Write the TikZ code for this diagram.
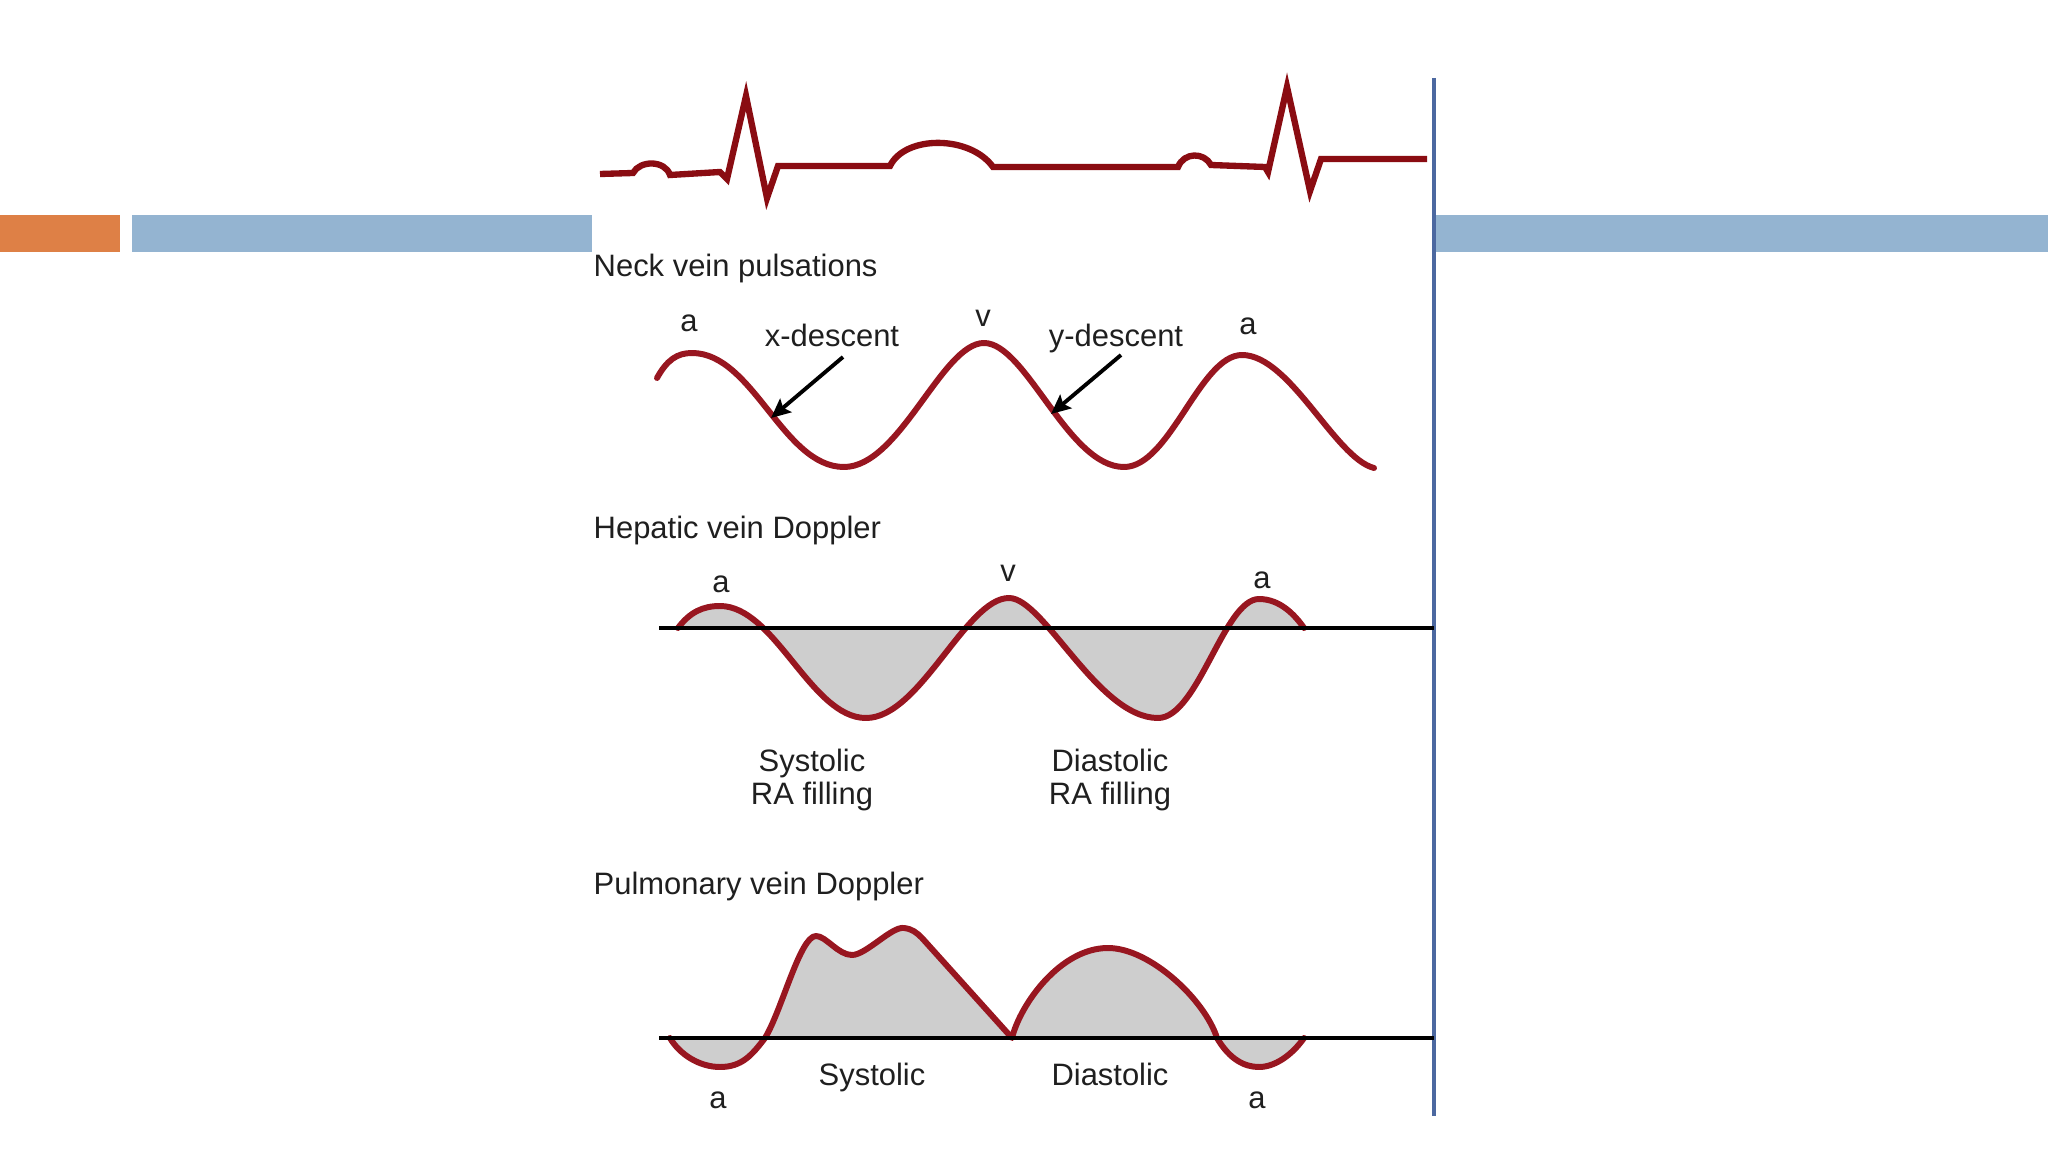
\documentclass[tikz,border=0pt]{standalone}
\usepackage{fontspec}
\setmainfont{Liberation Sans}
\usetikzlibrary{arrows.meta}
\definecolor{ecgred}{RGB}{138,12,18}
\definecolor{wavered}{RGB}{152,22,32}
\definecolor{fillgray}{RGB}{206,206,206}
\definecolor{barorange}{RGB}{222,128,70}
\definecolor{barblue}{RGB}{148,180,209}
\definecolor{edgeblue}{RGB}{76,104,160}

\begin{document}
\begin{tikzpicture}[
    x=0.01cm, y=-0.01cm,
    lbl/.style={font=\fontsize{8.8}{9.6}\selectfont, text=black!88, inner sep=0pt},
    heading/.style={lbl, anchor=base west},
    wave/.style={wavered, line width=1.7pt, line join=round, line cap=round},
    filled/.style={wave, preaction={fill=fillgray}},
    zeroline/.style={black, line width=1.1pt},
    pointer/.style={-{Stealth[length=5.5pt, width=5pt, inset=1pt]}, black, line width=1.1pt}
]
\useasboundingbox (0,0) rectangle (2048,1152);

% Slide bars
\fill[barorange] (0,215) rectangle (120,252);
\fill[barblue] (132,215) rectangle (592,252);
\fill[barblue] (1434,215) rectangle (2048,252);
\draw[edgeblue, line width=0.9pt] (1434,78) -- (1434,1116);

% ECG
\draw[ecgred, line width=1.8pt] (600,174) -- (633,173)
    .. controls (640,160) and (665,160) .. (670,175) -- (720,172) -- (727,179)
    -- (746,96) -- (767,198) -- (778,166) -- (890,166)
    .. controls (905,135) and (970,135) .. (993,167) -- (1178,167)
    .. controls (1184,152) and (1204,152) .. (1211,165) -- (1265,167)
    -- (1268,172) -- (1287,87) -- (1310,191) -- (1321,159) -- (1427,159);

% Neck vein pulsations
\node[heading] (neck) at (593,277) {Neck vein pulsations};
\draw[wave] (657,378) .. controls (667,360) and (677,353) .. (692,353)
    .. controls (753,353) and (783,467) .. (844,467)
    .. controls (900,467) and (942,343) .. (984,343)
    .. controls (1026,343) and (1068,467) .. (1124,467)
    .. controls (1170,467) and (1200,355) .. (1242,355)
    .. controls (1290,355) and (1335,458) .. (1374,468);
\node[lbl, anchor=base] (na1) at (689,332) {a};
\node[lbl, anchor=base] (xdesc) at (832,347) {x-descent};
\node[lbl, anchor=base] (nv) at (983,327) {v};
\node[lbl, anchor=base] (ydesc) at (1116,347) {y-descent};
\node[lbl, anchor=base] (na2) at (1248,335) {a};
\coordinate (xtail) at (843,357);
\coordinate (xtip) at (771,418);
\coordinate (ytail) at (1121,355);
\coordinate (ytip) at (1051,414);
\draw[pointer] (xtail) -- (xtip);
\draw[pointer] (ytail) -- (ytip);

% Hepatic vein Doppler
\node[heading] (hepatic) at (593,539) {Hepatic vein Doppler};
\draw[filled] (678,628) .. controls (690,612) and (703,606) .. (720,606)
    .. controls (775,606) and (811,718) .. (866,718)
    .. controls (920,718) and (966,598) .. (1009,598)
    .. controls (1044,598) and (1098,718) .. (1158,718)
    .. controls (1198,718) and (1224,599) .. (1259,599)
    .. controls (1280,599) and (1295,615) .. (1304,628);
\draw[zeroline] (659,628) -- (1434,628);
\node[lbl, anchor=base] (ha1) at (721,593) {a};
\node[lbl, anchor=base] (hv) at (1008,582) {v};
\node[lbl, anchor=base] (ha2) at (1262,588) {a};
\node[lbl, align=center] (hsys) at (812,780) {Systolic\\RA filling};
\node[lbl, align=center] (hdia) at (1110,780) {Diastolic\\RA filling};

% Pulmonary vein Doppler
\node[heading] (pulmonary) at (593,894) {Pulmonary vein Doppler};
\draw[filled] (670,1038) .. controls (680,1055) and (700,1067) .. (720,1067)
    .. controls (742,1067) and (752,1055) .. (765,1038)
    .. controls (782,1010) and (800,936) .. (816,936)
    .. controls (826,936) and (838,955) .. (852,955)
    .. controls (866,955) and (892,926) .. (904,928)
    .. controls (912,929) and (916,932) .. (922,938) -- (1012,1038)
    .. controls (1020,1005) and (1060,948) .. (1108,948)
    .. controls (1150,948) and (1205,1000) .. (1217,1038)
    .. controls (1230,1060) and (1245,1067) .. (1259,1067)
    .. controls (1275,1067) and (1292,1055) .. (1304,1038);
\draw[zeroline] (659,1038) -- (1434,1038);
\node[lbl, anchor=base] (pa1) at (718,1108) {a};
\node[lbl, anchor=base] (psys) at (872,1085) {Systolic};
\node[lbl, anchor=base] (pdia) at (1110,1085) {Diastolic};
\node[lbl, anchor=base] (pa2) at (1257,1108) {a};

\end{tikzpicture}
\end{document}
